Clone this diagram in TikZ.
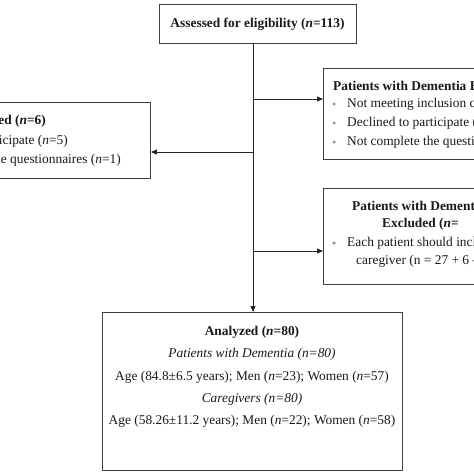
\documentclass[tikz,border=0pt]{standalone}
\usepackage{fontspec}
\setmainfont{Liberation Serif}
\usetikzlibrary{arrows.meta}
\begin{document}
\begin{tikzpicture}[x=1pt,y=-1pt,
  box/.style={draw=black!75,line width=0.9pt,inner sep=0pt,anchor=north west},
  txt/.style={inner sep=0pt,font=\fontsize{13.4}{15}\selectfont,text=black!90},
  arr/.style={-{Triangle[length=6pt,width=5pt]},line width=1pt,draw=black!85},
  dot/.style={circle,fill=black!40,inner sep=0pt,minimum size=3.5pt}]
\useasboundingbox (0,0) rectangle (474,474);
\clip (0,0) rectangle (474,474);
% boxes
\node[box,minimum width=197pt,minimum height=39pt] (top) at (159,4) {};
\node[box,minimum width=170pt,minimum height=76pt] (left) at (-20,102) {};
\node[box,minimum width=200pt,minimum height=91pt] (r1) at (323,68) {};
\node[box,minimum width=200pt,minimum height=96pt] (r2) at (323,188) {};
\node[box,minimum width=300pt,minimum height=158pt] (an) at (102,312) {};
% top text
\node[txt] (toptxt) at (257.5,24) {\textbf{Assessed for eligibility (\textit{n}=113)}};
% left box text
\node[txt,anchor=east] (l1) at (46,121) {\textbf{Caregivers Excluded (\textit{n}=6)}};
\node[txt,anchor=east] (l2) at (68,141) {Declined to participate (\textit{n}=5)};
\node[txt,anchor=east] (l3) at (121,160) {Not complete the questionnaires (\textit{n}=1)};
% right box 1
\node[txt,anchor=west] (r1t) at (333,86) {\textbf{Patients with Dementia Excluded}};
\node[dot] (d1) at (334,104) {};
\node[txt,anchor=west] (r1a) at (347,104) {Not meeting inclusion criteria};
\node[dot] (d2) at (334,123) {};
\node[txt,anchor=west] (r1b) at (347,123) {Declined to participate (\textit{n}};
\node[dot] (d3) at (334,142) {};
\node[txt,anchor=west] (r1c) at (347,142) {Not complete the questionnaires};
% right box 2
\node[txt,anchor=west] (r2t) at (352,206) {\textbf{Patients with Dementia}};
\node[txt,anchor=west] (r2u) at (382,224) {\textbf{Excluded (\textit{n}=}};
\node[dot] (d4) at (334,243) {};
\node[txt,anchor=west] (r2a) at (347,243) {Each patient should include a};
\node[txt,anchor=west] (r2b) at (356,261) {caregiver (n = 27 + 6 –};
% analyzed
\node[txt] (a1) at (252,332) {\textbf{Analyzed (\textit{n}=80)}};
\node[txt] (a2) at (252,354) {\textit{Patients with Dementia (n=80)}};
\node[txt] (a3) at (252,377) {Age (84.8±6.5 years); Men (\textit{n}=23); Women (\textit{n}=57)};
\node[txt] (a4) at (252,399) {\textit{Caregivers (n=80)}};
\node[txt] (a5) at (252,421) {Age (58.26±11.2 years); Men (\textit{n}=22); Women (\textit{n}=58)};
% connectors
\coordinate (trunk) at (253,43);
\coordinate (j1) at (253,99);
\coordinate (j2) at (253,152);
\coordinate (j3) at (253,251);
\draw[arr] (trunk) -- (trunk |- an.north);
\draw[arr] (j1) -- (j1 -| r1.west);
\draw[arr] (j2) -- (j2 -| left.east);
\draw[arr] (j3) -- (j3 -| r2.west);
\end{tikzpicture}
\end{document}
